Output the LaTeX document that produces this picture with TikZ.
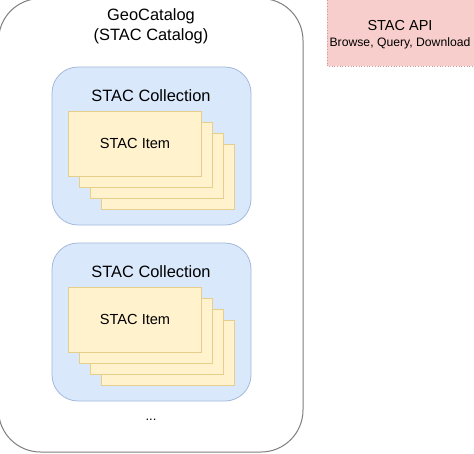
\documentclass[tikz,border=0pt]{standalone}
\usepackage{fontspec}
\setmainfont{Liberation Sans}
\definecolor{catline}{HTML}{7F7F7F}
\definecolor{colfill}{HTML}{DAE8FC}
\definecolor{colline}{HTML}{A3B8DB}
\definecolor{itemfill}{HTML}{FFF2CC}
\definecolor{itemline}{HTML}{E6CF8A}
\definecolor{apifill}{HTML}{F8CECC}
\definecolor{apiline}{HTML}{C89A98}
\tikzset{
    catalog/.style={draw=catline, fill=white, line width=1pt, rounded corners=42pt},
    collection/.style={draw=colline, fill=colfill, line width=0.8pt, rounded corners=26pt},
    item/.style={draw=itemline, fill=itemfill, line width=0.8pt},
    api/.style={draw=apiline, fill=apifill, dotted, line width=0.7pt},
}
\begin{document}
\begin{tikzpicture}[x=1pt,y=-1pt]
        \useasboundingbox (0,0) rectangle (474,453);
        \fill[white] (0,0) rectangle (474,453);
        % catalog and api boxes
        \draw[catalog] (-1.5,-1.5) rectangle (303,452);
        \draw[api] (327,-5) rectangle (480,66);
        \node[font=\fontsize{14.5}{16}\selectfont] (apititle) at (400,26) {STAC API};
        \node[font=\fontsize{12.2}{14}\selectfont] (apitext) at (400,43) {Browse, Query, Download};
        \node[font=\fontsize{16.4}{19}\selectfont] (geo) at (151,16) {GeoCatalog};
        \node[font=\fontsize{16.4}{19}\selectfont] (stac) at (151,36) {(STAC Catalog)};
        % collections with stacked items
        \foreach \c/\y in {1/0,2/176} {
            \draw[collection] (52,67+\y) rectangle (251,225+\y);
            \node[font=\fontsize{16.4}{19}\selectfont] (col\c) at (151,96+\y) {STAC Collection};
            \foreach \k in {3,2,1,0} {
                \draw[item] (68+11*\k,111+\y+11*\k) rectangle (201+11*\k,176+\y+11*\k);
            };
            \node[font=\fontsize{14.6}{17}\selectfont] (item\c) at (135,143+\y) {STAC Item};
        };
        \node[font=\fontsize{13}{15}\selectfont] (more) at (151,420) {...};
    \end{tikzpicture}
\end{document}
